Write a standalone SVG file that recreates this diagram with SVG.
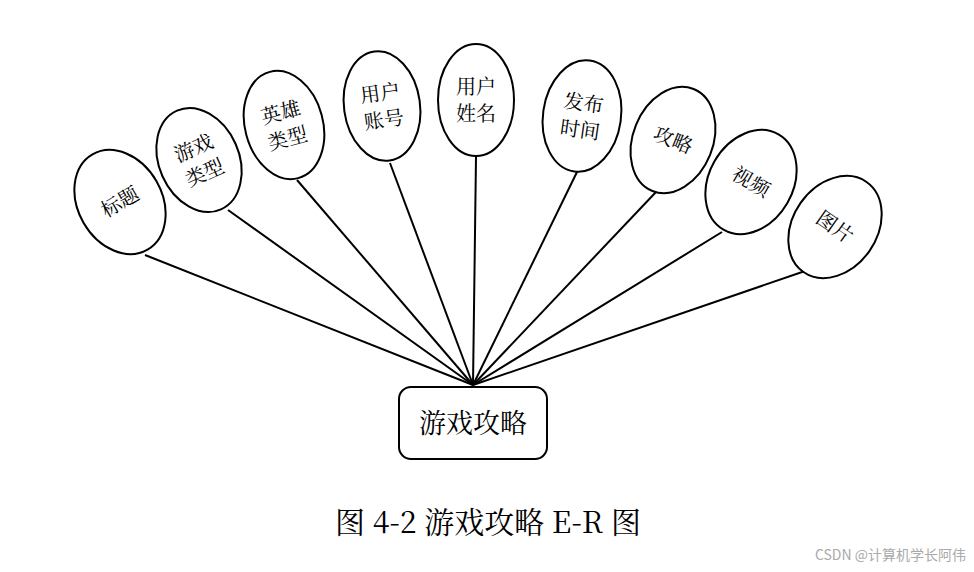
<svg xmlns="http://www.w3.org/2000/svg" width="974" height="572" viewBox="0 0 974 572">
<style>
.e{fill:#fff;stroke:#000;stroke-width:2}
.t{font-family:"Noto Serif CJK SC","Noto Sans CJK SC",serif;font-size:20px;text-anchor:middle;fill:#000}
.c{stroke:#000;stroke-width:2;fill:none}
</style>
<rect width="974" height="572" fill="#fff"/>
<g id="connectors">
<line class="c" x1="145" y1="255" x2="473" y2="385"/>
<line class="c" x1="228" y1="210" x2="473" y2="385"/>
<line class="c" x1="297" y1="180" x2="473" y2="385"/>
<line class="c" x1="390" y1="163" x2="473" y2="385"/>
<line class="c" x1="476" y1="157" x2="473" y2="385"/>
<line class="c" x1="577" y1="172" x2="473" y2="385"/>
<line class="c" x1="656" y1="192" x2="473" y2="385"/>
<line class="c" x1="722" y1="232" x2="473" y2="385"/>
<line class="c" x1="808" y1="270" x2="473" y2="385"/>
</g>
<g id="n1" transform="translate(120,202) rotate(-30)"><ellipse class="e" rx="42" ry="55"/><text class="t" y="7">标题</text></g>
<g id="n2" transform="translate(199,160) rotate(-24)"><ellipse class="e" rx="40" ry="54"/><text class="t" y="-6">游戏</text><text class="t" y="21">类型</text></g>
<g id="n3" transform="translate(284,125) rotate(-15)"><ellipse class="e" rx="39" ry="55"/><text class="t" y="-6">英雄</text><text class="t" y="21">类型</text></g>
<g id="n4" transform="translate(382,106) rotate(-8)"><ellipse class="e" rx="38" ry="55"/><text class="t" y="-6">用户</text><text class="t" y="21">账号</text></g>
<g id="n5" transform="translate(476,100)"><ellipse class="e" rx="38" ry="56"/><text class="t" y="-6">用户</text><text class="t" y="21">姓名</text></g>
<g id="n6" transform="translate(582,116) rotate(8)"><ellipse class="e" rx="39" ry="56"/><text class="t" y="-6">发布</text><text class="t" y="21">时间</text></g>
<g id="n7" transform="translate(673,140) rotate(22)"><ellipse class="e" rx="40" ry="55"/><text class="t" y="7">攻略</text></g>
<g id="n8" transform="translate(751,182) rotate(30)"><ellipse class="e" rx="42" ry="55"/><text class="t" y="7">视频</text></g>
<g id="n9" transform="translate(835,227) rotate(35)"><ellipse class="e" rx="42" ry="55"/><text class="t" y="7">图片</text></g>
<g id="center"><rect x="399" y="387" width="148" height="72" rx="12" fill="#fff" stroke="#000" stroke-width="2"/><text class="t" x="473" y="433" style="font-size:27px">游戏攻略</text></g>
<text class="t" x="488" y="533" style="font-size:30px">图 4-2 游戏攻略 E-R 图</text>
<text x="966" y="560" style="font-family:'Noto Sans CJK SC',sans-serif;font-size:14px;fill:#aaa;text-anchor:end">CSDN @计算机学长阿伟</text>
</svg>
